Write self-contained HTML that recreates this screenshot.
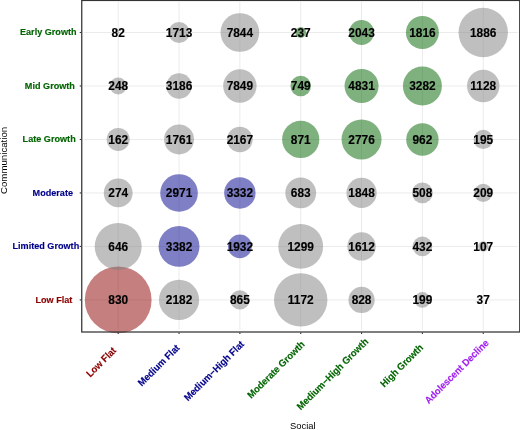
<!DOCTYPE html>
<html><head><meta charset="utf-8"><title>Bubble chart</title>
<style>
html,body{margin:0;padding:0;background:#fff;}
body{width:520px;height:430px;overflow:hidden;}
svg{display:block;font-family:"Liberation Sans",sans-serif;}
.n{stroke:#000;stroke-width:0.15px;font-weight:bold;font-size:11.9px;fill:#000;text-anchor:middle;}
.yl{stroke-width:0.15px;font-weight:bold;font-size:9.4px;text-anchor:end;}
.xl{stroke-width:0.15px;font-weight:bold;font-size:9.8px;text-anchor:end;}
.t{font-size:9.68px;fill:#000;text-anchor:middle;}
</style></head><body>
<svg width="520" height="430" viewBox="0 0 520 430">
<rect x="0" y="0" width="520" height="430" fill="#fff"/>

<line x1="118.20" y1="2" x2="118.20" y2="329.8" stroke="#ebebeb" stroke-width="1"/>
<line x1="179.04" y1="2" x2="179.04" y2="329.8" stroke="#ebebeb" stroke-width="1"/>
<line x1="239.88" y1="2" x2="239.88" y2="329.8" stroke="#ebebeb" stroke-width="1"/>
<line x1="300.72" y1="2" x2="300.72" y2="329.8" stroke="#ebebeb" stroke-width="1"/>
<line x1="361.56" y1="2" x2="361.56" y2="329.8" stroke="#ebebeb" stroke-width="1"/>
<line x1="422.40" y1="2" x2="422.40" y2="329.8" stroke="#ebebeb" stroke-width="1"/>
<line x1="483.24" y1="2" x2="483.24" y2="329.8" stroke="#ebebeb" stroke-width="1"/>
<line x1="83.8" y1="32.50" x2="517.8" y2="32.50" stroke="#ebebeb" stroke-width="1"/>
<line x1="83.8" y1="85.98" x2="517.8" y2="85.98" stroke="#ebebeb" stroke-width="1"/>
<line x1="83.8" y1="139.46" x2="517.8" y2="139.46" stroke="#ebebeb" stroke-width="1"/>
<line x1="83.8" y1="192.94" x2="517.8" y2="192.94" stroke="#ebebeb" stroke-width="1"/>
<line x1="83.8" y1="246.42" x2="517.8" y2="246.42" stroke="#ebebeb" stroke-width="1"/>
<line x1="83.8" y1="299.90" x2="517.8" y2="299.90" stroke="#ebebeb" stroke-width="1"/>
<circle cx="118.20" cy="299.90" r="33.40" fill="rgba(139,0,0,0.5)"/>
<circle cx="179.04" cy="299.90" r="20.10" fill="rgba(127,127,127,0.5)"/>
<circle cx="239.88" cy="299.90" r="9.65" fill="rgba(127,127,127,0.5)"/>
<circle cx="300.72" cy="299.90" r="26.70" fill="rgba(127,127,127,0.5)"/>
<circle cx="361.56" cy="299.90" r="13.10" fill="rgba(127,127,127,0.5)"/>
<circle cx="422.40" cy="299.90" r="7.80" fill="rgba(127,127,127,0.5)"/>
<circle cx="118.20" cy="246.42" r="23.50" fill="rgba(127,127,127,0.5)"/>
<circle cx="179.04" cy="246.42" r="20.45" fill="rgba(0,0,139,0.5)"/>
<circle cx="239.88" cy="246.42" r="11.90" fill="rgba(0,0,139,0.5)"/>
<circle cx="300.72" cy="246.42" r="22.40" fill="rgba(127,127,127,0.5)"/>
<circle cx="361.56" cy="246.42" r="14.20" fill="rgba(127,127,127,0.5)"/>
<circle cx="422.40" cy="246.42" r="9.80" fill="rgba(127,127,127,0.5)"/>
<circle cx="483.24" cy="246.42" r="5.20" fill="rgba(127,127,127,0.5)"/>
<circle cx="118.20" cy="192.94" r="14.40" fill="rgba(127,127,127,0.5)"/>
<circle cx="179.04" cy="192.94" r="18.80" fill="rgba(0,0,139,0.5)"/>
<circle cx="239.88" cy="192.94" r="15.70" fill="rgba(0,0,139,0.5)"/>
<circle cx="300.72" cy="192.94" r="15.40" fill="rgba(127,127,127,0.5)"/>
<circle cx="361.56" cy="192.94" r="15.10" fill="rgba(127,127,127,0.5)"/>
<circle cx="422.40" cy="192.94" r="10.40" fill="rgba(127,127,127,0.5)"/>
<circle cx="483.24" cy="192.94" r="9.10" fill="rgba(127,127,127,0.5)"/>
<circle cx="118.20" cy="139.46" r="11.50" fill="rgba(127,127,127,0.5)"/>
<circle cx="179.04" cy="139.46" r="15.00" fill="rgba(127,127,127,0.5)"/>
<circle cx="239.88" cy="139.46" r="12.80" fill="rgba(127,127,127,0.5)"/>
<circle cx="300.72" cy="139.46" r="18.60" fill="rgba(0,100,0,0.5)"/>
<circle cx="361.56" cy="139.46" r="20.00" fill="rgba(0,100,0,0.5)"/>
<circle cx="422.40" cy="139.46" r="16.20" fill="rgba(0,100,0,0.5)"/>
<circle cx="483.24" cy="139.46" r="9.65" fill="rgba(127,127,127,0.5)"/>
<circle cx="118.20" cy="85.98" r="8.40" fill="rgba(127,127,127,0.5)"/>
<circle cx="179.04" cy="85.98" r="12.80" fill="rgba(127,127,127,0.5)"/>
<circle cx="239.88" cy="85.98" r="16.70" fill="rgba(127,127,127,0.5)"/>
<circle cx="300.72" cy="85.98" r="10.30" fill="rgba(0,100,0,0.5)"/>
<circle cx="361.56" cy="85.98" r="17.00" fill="rgba(0,100,0,0.5)"/>
<circle cx="422.40" cy="85.98" r="19.50" fill="rgba(0,100,0,0.5)"/>
<circle cx="483.24" cy="85.98" r="16.20" fill="rgba(127,127,127,0.5)"/>
<circle cx="118.20" cy="32.50" r="1.20" fill="rgba(127,127,127,0.5)"/>
<circle cx="179.04" cy="32.50" r="10.50" fill="rgba(127,127,127,0.5)"/>
<circle cx="239.88" cy="32.50" r="19.35" fill="rgba(127,127,127,0.5)"/>
<circle cx="300.72" cy="32.50" r="5.40" fill="rgba(0,100,0,0.5)"/>
<circle cx="361.56" cy="32.50" r="12.50" fill="rgba(0,100,0,0.5)"/>
<circle cx="422.40" cy="32.50" r="16.50" fill="rgba(0,100,0,0.5)"/>
<circle cx="483.24" cy="32.50" r="24.70" fill="rgba(127,127,127,0.5)"/>
<text class="n" x="118.20" y="36.95">82</text>
<text class="n" x="179.04" y="36.95">1713</text>
<text class="n" x="239.88" y="36.95">7844</text>
<text class="n" x="300.72" y="36.95">237</text>
<text class="n" x="361.56" y="36.95">2043</text>
<text class="n" x="422.40" y="36.95">1816</text>
<text class="n" x="483.24" y="36.95">1886</text>
<text class="n" x="118.20" y="90.43">248</text>
<text class="n" x="179.04" y="90.43">3186</text>
<text class="n" x="239.88" y="90.43">7849</text>
<text class="n" x="300.72" y="90.43">749</text>
<text class="n" x="361.56" y="90.43">4831</text>
<text class="n" x="422.40" y="90.43">3282</text>
<text class="n" x="483.24" y="90.43">1128</text>
<text class="n" x="118.20" y="143.91">162</text>
<text class="n" x="179.04" y="143.91">1761</text>
<text class="n" x="239.88" y="143.91">2167</text>
<text class="n" x="300.72" y="143.91">871</text>
<text class="n" x="361.56" y="143.91">2776</text>
<text class="n" x="422.40" y="143.91">962</text>
<text class="n" x="483.24" y="143.91">195</text>
<text class="n" x="118.20" y="197.39">274</text>
<text class="n" x="179.04" y="197.39">2971</text>
<text class="n" x="239.88" y="197.39">3332</text>
<text class="n" x="300.72" y="197.39">683</text>
<text class="n" x="361.56" y="197.39">1848</text>
<text class="n" x="422.40" y="197.39">508</text>
<text class="n" x="483.24" y="197.39">209</text>
<text class="n" x="118.20" y="250.87">646</text>
<text class="n" x="179.04" y="250.87">3382</text>
<text class="n" x="239.88" y="250.87">1932</text>
<text class="n" x="300.72" y="250.87">1299</text>
<text class="n" x="361.56" y="250.87">1612</text>
<text class="n" x="422.40" y="250.87">432</text>
<text class="n" x="483.24" y="250.87">107</text>
<text class="n" x="118.20" y="304.35">830</text>
<text class="n" x="179.04" y="304.35">2182</text>
<text class="n" x="239.88" y="304.35">865</text>
<text class="n" x="300.72" y="304.35">1172</text>
<text class="n" x="361.56" y="304.35">828</text>
<text class="n" x="422.40" y="304.35">199</text>
<text class="n" x="483.24" y="304.35">37</text>
<rect x="81.75" y="0.45" width="438" height="331.55" fill="none" stroke="#333" stroke-width="1.25"/>
<line x1="118.20" y1="332.5" x2="118.20" y2="334.1" stroke="#333" stroke-width="1.1"/>
<line x1="179.04" y1="332.5" x2="179.04" y2="334.1" stroke="#333" stroke-width="1.1"/>
<line x1="239.88" y1="332.5" x2="239.88" y2="334.1" stroke="#333" stroke-width="1.1"/>
<line x1="300.72" y1="332.5" x2="300.72" y2="334.1" stroke="#333" stroke-width="1.1"/>
<line x1="361.56" y1="332.5" x2="361.56" y2="334.1" stroke="#333" stroke-width="1.1"/>
<line x1="422.40" y1="332.5" x2="422.40" y2="334.1" stroke="#333" stroke-width="1.1"/>
<line x1="483.24" y1="332.5" x2="483.24" y2="334.1" stroke="#333" stroke-width="1.1"/>
<line x1="79.7" y1="32.50" x2="81.2" y2="32.50" stroke="#333" stroke-width="1.1"/>
<line x1="79.7" y1="85.98" x2="81.2" y2="85.98" stroke="#333" stroke-width="1.1"/>
<line x1="79.7" y1="139.46" x2="81.2" y2="139.46" stroke="#333" stroke-width="1.1"/>
<line x1="79.7" y1="192.94" x2="81.2" y2="192.94" stroke="#333" stroke-width="1.1"/>
<line x1="79.7" y1="246.42" x2="81.2" y2="246.42" stroke="#333" stroke-width="1.1"/>
<line x1="79.7" y1="299.90" x2="81.2" y2="299.90" stroke="#333" stroke-width="1.1"/>
<text class="yl" transform="translate(76.60,35.10) scale(0.968,1)" fill="#006400" stroke="#006400">Early Growth</text>
<text class="yl" transform="translate(74.90,88.58) scale(0.968,1)" fill="#006400" stroke="#006400">Mid Growth</text>
<text class="yl" transform="translate(75.70,142.06) scale(0.968,1)" fill="#006400" stroke="#006400">Late Growth</text>
<text class="yl" transform="translate(73.00,195.54) scale(0.968,1)" fill="#00008b" stroke="#00008b">Moderate</text>
<text class="yl" transform="translate(79.20,249.02) scale(0.968,1)" fill="#00008b" stroke="#00008b">Limited Growth</text>
<text class="yl" transform="translate(72.40,302.50) scale(0.968,1)" fill="#8b0000" stroke="#8b0000">Low Flat</text>
<text class="xl" transform="translate(116.81,351.04) rotate(-45) scale(0.950,1)" fill="#8b0000" stroke="#8b0000">Low Flat</text>
<text class="xl" transform="translate(180.23,348.46) rotate(-45) scale(0.950,1)" fill="#00008b" stroke="#00008b">Medium Flat</text>
<text class="xl" transform="translate(244.76,344.76) rotate(-45) scale(0.950,1)" fill="#00008b" stroke="#00008b">Medium−High Flat</text>
<text class="xl" transform="translate(305.37,345.00) rotate(-45) scale(0.950,1)" fill="#006400" stroke="#006400">Moderate Growth</text>
<text class="xl" transform="translate(368.94,342.27) rotate(-45) scale(0.950,1)" fill="#006400" stroke="#006400">Medium−High Growth</text>
<text class="xl" transform="translate(423.82,348.22) rotate(-45) scale(0.950,1)" fill="#006400" stroke="#006400">High Growth</text>
<text class="xl" transform="translate(489.34,343.55) rotate(-45) scale(0.950,1)" fill="#a020f0" stroke="#a020f0">Adolescent Decline</text>
<text class="t" transform="translate(302.8,429.0) scale(0.96,1)" style="font-size:9.8px">Social</text>
<text class="t" transform="translate(7.4,160.4) rotate(-90)">Communication</text>
</svg></body></html>
